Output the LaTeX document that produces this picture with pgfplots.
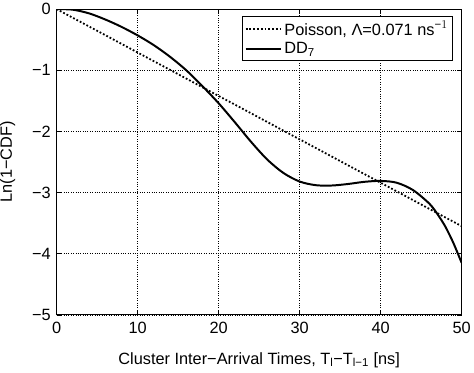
\documentclass[border=0pt]{standalone}
\usepackage{pgfplots}
\pgfplotsset{compat=1.18}
\usepackage{fontspec}
\setmainfont{Liberation Sans}
\begin{document}
\begin{tikzpicture}
\begin{axis}[
  scale only axis,
  width=408bp, height=308bp,
  xmin=0, xmax=50, ymin=-5, ymax=0,
  xtick={0,10,...,50}, ytick={-5,-4,...,0},
  yticklabels={−5,−4,−3,−2,−1,0},
  grid=major,
  grid style={black, dotted, line width=0.6pt},
  tick align=inside,
  tick pos=both,
  major tick length=5bp,
  axis line style={line width=0.9pt},
  every tick/.style={black, line width=0.6pt},
  /pgf/number format/assume math mode=true,
  font=\fontsize{16.5}{19}\selectfont,
  tick label style={font=\fontsize{16.5}{19}\selectfont},
  xticklabel style={yshift=-3.5bp},
  yticklabel style={xshift=-2.5bp},
  xlabel={Cluster Inter−Arrival Times, T\textsubscript{l}−T\textsubscript{l−1} [ns]\rule[-8bp]{0pt}{1bp}},
  ylabel={Ln(1−CDF)},
  xlabel style={at={(axis description cs:0.5,0)}, anchor=north, inner sep=0pt, yshift=-37.5bp},
  ylabel style={at={(axis description cs:0,0.5)}, anchor=south, inner sep=0pt, rotate=0, yshift=41.5bp},
  legend style={at={(0.978,0.977)}, anchor=north east, draw=black,
    font=\fontsize{16.5}{19}\selectfont, row sep=2bp, inner xsep=3bp, inner ysep=3bp},
  legend cell align=left,
  legend image code/.code={\draw[#1] (0bp,0bp) -- (36bp,0bp);},
]
\addplot[black, dotted, line width=1.8pt] coordinates {(0,0) (50,-3.55)};
\addlegendentry{Poisson, Λ=0.071 ns$^{−1}$}
\addplot[black, line width=2pt, smooth] coordinates {
(0,0) (2,-0.01) (4,-0.07) (6,-0.17) (8,-0.29) (10,-0.43) (12,-0.59) (14,-0.78)
(16,-1.00) (18,-1.26) (20,-1.54) (22,-1.85) (24,-2.17) (26,-2.46) (28,-2.68)
(30,-2.82) (32,-2.88) (34,-2.885) (36,-2.86) (38,-2.825) (40,-2.81) (42,-2.84)
(44,-2.96) (46,-3.18) (47,-3.35) (48,-3.56) (49,-3.83) (50,-4.15)};
\addlegendentry{DD\textsubscript{7}}
\end{axis}
\end{tikzpicture}
\end{document}
